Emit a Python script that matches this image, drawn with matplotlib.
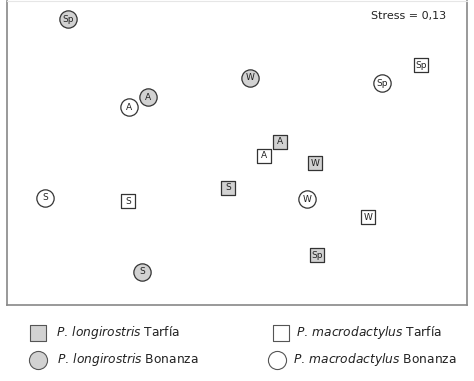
import matplotlib.pyplot as plt

plt.rcParams['font.family'] = ['DejaVu Sans']
plt.rcParams['mathtext.fontset'] = 'custom'
plt.rcParams['mathtext.it'] = 'DejaVu Sans:italic'
plt.rcParams['mathtext.rm'] = 'DejaVu Sans'

# MDS coordinates (arbitrary units)
# P. longirostris Tarfia (grey squares)
lt_lab = ['A', 'W', 'S', 'Sp']
lt_x = [273, 308, 221, 310]
lt_y = [163, 142, 117, 50]
# P. macrodactylus Tarfia (white squares)
mt_lab = ['A', 'W', 'S', 'Sp']
mt_x = [257, 361, 121, 414]
mt_y = [149, 88, 104, 240]
# P. longirostris Bonanza (grey circles)
lb_lab = ['A', 'W', 'S', 'Sp']
lb_x = [141, 243, 135, 61]
lb_y = [208, 227, 33, 286]
# P. macrodactylus Bonanza (white circles)
mb_lab = ['A', 'W', 'S', 'Sp']
mb_x = [122, 300, 38, 375]
mb_y = [198, 106, 107, 222]

grey = '#d2d2d2'
edge = '#333333'

fig = plt.figure(figsize=(4.74, 3.81), dpi=100)
ax = fig.add_axes([7/474, 1 - 305/381, 460/474, 304/381])
ax.set_xlim(0, 460)
ax.set_ylim(0, 304)
ax.set_xticks([])
ax.set_yticks([])
for s in ['left', 'bottom', 'right']:
    ax.spines[s].set_color('#888888')
    ax.spines[s].set_linewidth(1.2)
ax.spines['top'].set_color('#e6e6e6')

groups = [
    (lt_x, lt_y, lt_lab, 's', grey),
    (mt_x, mt_y, mt_lab, 's', 'white'),
    (lb_x, lb_y, lb_lab, 'o', grey),
    (mb_x, mb_y, mb_lab, 'o', 'white'),
]
for xs, ys, labs, mk, fc in groups:
    ax.scatter(xs, ys, marker=mk, s=155 if mk == 'o' else 115,
               facecolor=fc, edgecolor=edge, linewidth=0.9, zorder=2)
    for x, y, t in zip(xs, ys, labs):
        ax.text(x, y, t, ha='center', va='center', fontsize=6.5,
                color='#222222', zorder=3)

ax.text(0.955, 0.95, 'Stress = 0,13', transform=ax.transAxes,
        ha='right', va='center', fontsize=8, color='#222222')

# legend drawn by hand
lg = fig.add_axes([0, 0, 1, 1 - 305/381 - 0.01])
lg.set_xlim(0, 474)
lg.set_ylim(381 - 305 - 4, 0)
lg.axis('off')
items = [
    (38, 24, 's', grey, r'$\it{P.\,longirostris}$ Tarfía', 56),
    (38, 51, 'o', grey, r'$\it{P.\,longirostris}$ Bonanza', 57),
    (281, 24, 's', 'white', r'$\it{P.\,macrodactylus}$ Tarfía', 296),
    (277, 51, 'o', 'white', r'$\it{P.\,macrodactylus}$ Bonanza', 293),
]
for mx, my, mk, fc, label, tx in items:
    lg.scatter([mx], [my], marker=mk, s=170 if mk == 'o' else 140,
               facecolor=fc, edgecolor='#555555', linewidth=0.8)
    lg.text(tx, my, label, ha='left', va='center', fontsize=8.8,
            color='#222222')

fig.savefig('out.png', dpi=100)
